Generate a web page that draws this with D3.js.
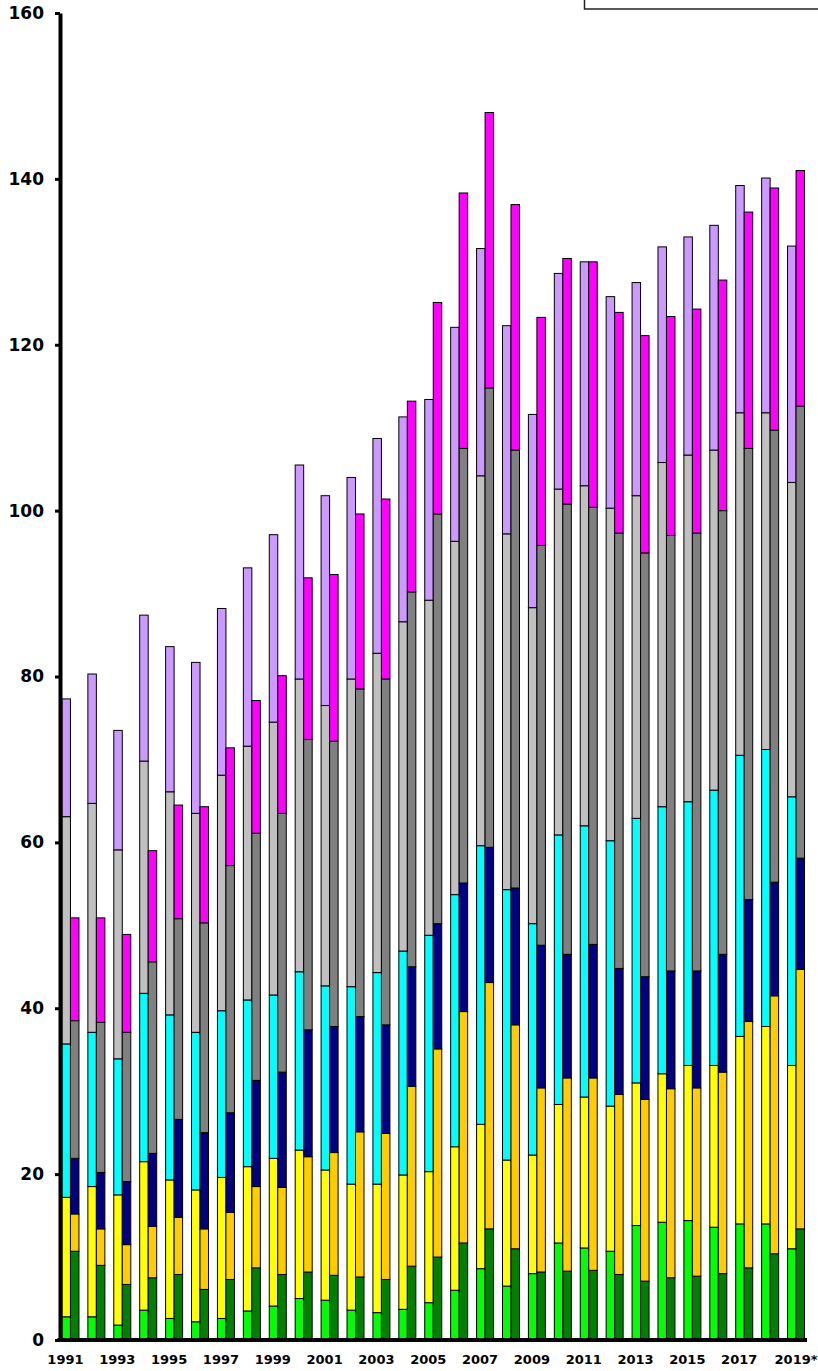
<!DOCTYPE html>
<html>
<head>
<meta charset="utf-8">
<script src="https://cdn.jsdelivr.net/npm/d3@7"></script>
<style>
  body { margin: 0; background: #fff; }
  svg { display: block; }
  text { font-family: "DejaVu Sans", Verdana, sans-serif; font-weight: bold; fill: #000; }
</style>
</head>
<body>
<div id="chart"></div>
<script>
const width = 818, height = 1371;
const margins = { top: 13, right: 7, bottom: 31, left: 57.5 };

const years = ["1991","1992","1993","1994","1995","1996","1997","1998","1999","2000",
               "2001","2002","2003","2004","2005","2006","2007","2008","2009","2010",
               "2011","2012","2013","2014","2015","2016","2017","2018","2019*"];
const yTicks = [0, 20, 40, 60, 80, 100, 120, 140, 160];

// left bar of each year (bottom -> top)
const leftGreen  = [2.8,2.8,1.8,3.6,2.6,2.2,2.6,3.5,4.1,5.0,4.8,3.6,3.3,3.7,4.5,6.0,8.6,6.5,8.0,11.7,11.1,10.7,13.8,14.2,14.4,13.6,14.0,14.0,11.0];
const leftYellow = [14.4,15.7,15.7,17.9,16.7,15.9,17.0,17.4,17.8,17.9,15.7,15.2,15.5,16.2,15.8,17.3,17.4,15.2,14.3,16.7,18.2,17.5,17.2,17.9,18.7,19.5,22.6,23.8,22.1];
const leftCyan   = [18.5,18.6,16.4,20.3,19.9,19.0,20.1,20.1,19.7,21.5,22.2,23.8,25.5,27.0,28.5,30.4,33.6,32.6,27.9,32.5,32.7,32.0,31.9,32.2,31.8,33.2,33.9,33.4,32.4];
const leftSilver = [27.4,27.6,25.2,28.0,26.9,26.4,28.4,30.6,32.9,35.3,33.8,37.1,38.5,39.7,40.4,42.6,44.6,42.9,38.1,41.7,41.0,40.1,38.9,41.5,41.8,41.0,41.3,40.6,37.9];
const leftLilac  = [14.2,15.6,14.4,17.6,17.5,18.2,20.1,21.5,22.6,25.8,25.3,24.3,25.9,24.7,24.2,25.8,27.4,25.1,23.3,26.0,27.0,25.5,25.7,26.0,26.3,27.1,27.4,28.3,28.5];

// right bar of each year (bottom -> top)
const rightGreen   = [10.7,9.0,6.7,7.5,7.9,6.1,7.3,8.7,7.9,8.2,7.8,7.6,7.3,8.9,10.0,11.7,13.4,11.0,8.2,8.3,8.4,7.9,7.1,7.5,7.7,8.0,8.7,10.4,13.4];
const rightGold    = [4.5,4.4,4.8,6.2,6.9,7.3,8.1,9.8,10.5,13.9,14.8,17.5,17.6,21.7,25.1,27.9,29.7,27.0,22.2,23.3,23.2,21.7,21.9,22.8,22.7,24.3,29.7,31.1,31.3];
const rightNavy    = [6.7,6.8,7.6,8.8,11.8,11.6,12.0,12.8,13.9,15.3,15.2,13.9,13.1,14.4,15.1,15.5,16.3,16.5,17.2,14.9,16.1,15.2,14.8,14.2,14.1,14.2,14.7,13.7,13.4];
const rightGray    = [16.6,18.1,18.0,23.1,24.2,25.3,29.8,29.8,31.2,35.0,34.4,39.5,41.7,45.2,49.4,52.4,55.4,52.8,48.2,54.3,52.7,52.5,51.1,52.5,52.8,53.5,54.4,54.5,54.5];
const rightMagenta = [12.4,12.6,11.8,13.4,13.7,14.0,14.2,16.0,16.6,19.5,20.1,21.1,21.7,23.0,25.5,30.8,33.2,29.6,27.5,29.6,29.6,26.6,26.2,26.4,27.0,27.8,28.5,29.2,28.4];

const leftColors  = ["#00ff00", "#ffff00", "#00ffff", "#c0c0c0", "#cc99ff"];
const rightColors = ["#008000", "#ffcc00", "#000080", "#808080", "#ff00ff"];

const svg = d3.select("#chart")
    .append("svg")
    .attr("width", width)
    .attr("height", height);

const x = d3.scaleBand()
    .domain(years)
    .range([margins.left, width - margins.right - 2]);

const y = d3.scaleLinear()
    .domain([0, 160])
    .range([height - margins.bottom, margins.top]);

const barW = 8.5;

function table(cols) {
    return years.map((yr, i) => {
        const row = { year: yr };
        cols.forEach((c, j) => row["s" + j] = c[i]);
        return row;
    });
}
const keys = ["s0", "s1", "s2", "s3", "s4"];
const stack = d3.stack().keys(keys);

const leftStack  = stack(table([leftGreen, leftYellow, leftCyan, leftSilver, leftLilac]));
const rightStack = stack(table([rightGreen, rightGold, rightNavy, rightGray, rightMagenta]));

// legend box cut by the top edge
svg.append("rect")
    .attr("x", 584.5).attr("y", -40)
    .attr("width", 300).attr("height", 49)
    .attr("fill", "#fff")
    .attr("stroke", "#222")
    .attr("stroke-width", 1.5);

function drawBars(layers, colors, offset) {
    svg.append("g")
      .selectAll("g")
      .data(layers)
      .join("g")
        .attr("fill", (d, i) => colors[i])
      .selectAll("rect")
      .data(d => d)
      .join("rect")
        .attr("x", d => x(d.data.year) + x.bandwidth() / 2 + offset)
        .attr("y", d => y(d[1]))
        .attr("width", barW)
        .attr("height", d => y(d[0]) - y(d[1]))
        .attr("stroke", "#000")
        .attr("stroke-width", 1);
}
drawBars(leftStack, leftColors, -barW);
drawBars(rightStack, rightColors, 0);

// y axis
const yAxis = svg.append("g")
    .attr("transform", `translate(${margins.left + 2.5},0)`)
    .call(d3.axisLeft(y).tickValues(yTicks).tickSize(5).tickSizeOuter(0));
yAxis.select(".domain").attr("stroke", "#000").attr("stroke-width", 4);
yAxis.selectAll(".tick line").attr("stroke", "#000").attr("stroke-width", 3);
yAxis.selectAll(".tick text")
    .attr("x", -16)
    .style("font-size", "17px")
    .style("font-family", "'DejaVu Sans', Verdana, sans-serif")
    .style("font-weight", "bold");

// x axis line
svg.append("line")
    .attr("x1", margins.left)
    .attr("x2", x.range()[1] - 2)
    .attr("y1", y(0)).attr("y2", y(0))
    .attr("stroke", "#000")
    .attr("stroke-width", 4);

// every other year label
svg.append("g")
  .selectAll("text")
  .data(years.filter((d, i) => i % 2 === 0))
  .join("text")
    .attr("x", d => x(d) + x.bandwidth() / 2 - 5 + (d.endsWith("*") ? 5 : 0))
    .attr("y", 1364)
    .attr("text-anchor", "middle")
    .style("font-size", "13px")
    .text(d => d);
</script>
</body>
</html>
